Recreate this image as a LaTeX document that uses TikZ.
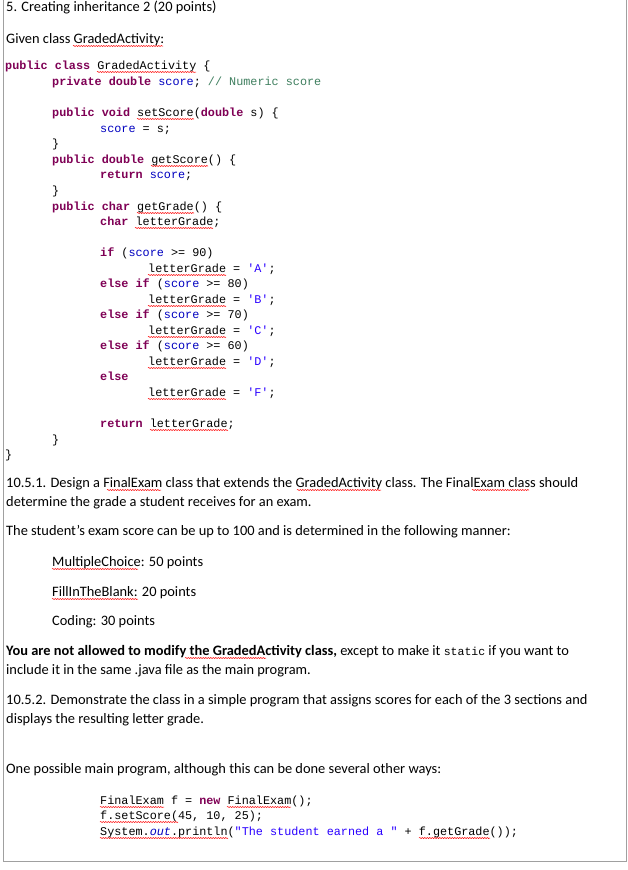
\documentclass[tikz,border=0pt]{standalone}
\usepackage{fontspec}
\setmainfont{Carlito}
\setmonofont{Liberation Mono}
\usetikzlibrary{decorations.pathmorphing}
\definecolor{kw}{HTML}{7F0055}
\definecolor{vr}{HTML}{0000C0}
\definecolor{cm}{HTML}{3F7F5F}
\definecolor{st}{HTML}{2A00FF}
\definecolor{frame}{HTML}{A0A0A0}
\newcommand{\K}[1]{\textcolor{kw}{\bfseries #1}}
\newcommand{\V}[1]{\textcolor{vr}{#1}}
\tikzset{txt/.style={anchor=base west,inner sep=0pt,font=\fontsize{14.4}{16}\selectfont},
code/.style={anchor=base west,inner sep=0pt,font=\ttfamily\fontsize{11.8}{14}\selectfont},
squig/.style={draw=red,line width=0.5pt,decorate,decoration={snake,amplitude=0.6pt,segment length=2.5pt}}}
\begin{document}
\begin{tikzpicture}[x=1pt,y=-1pt]
\useasboundingbox (0,0) rectangle (628,870);
\fill[white] (0,0) rectangle (628,870);
\draw[frame] (3.5,-2) rectangle (626.5,861.5);
\node[txt] (t1) at (6,12) {5. Creating inheritance 2 (20 points)};
\node[txt] (t2) at (6,43) {Given class GradedActivity:};
\node[code] (c1) at (5,69) {\K{public class} GradedActivity \{};
\node[code] (c2) at (52,85) {\K{private double} \V{score}; \textcolor{cm}{// Numeric score}};
\node[code] (c3) at (52,116) {\K{public void} setScore(\K{double} s) \{};
\node[code] (c4) at (100,132) {\V{score} = s;};
\node[code] (c5) at (52,147) {\}};
\node[code] (c6) at (52,163) {\K{public double} getScore() \{};
\node[code] (c7) at (100,178) {\K{return} \V{score};};
\node[code] (c8) at (52,194) {\}};
\node[code] (c9) at (52,210) {\K{public char} getGrade() \{};
\node[code] (c10) at (100,225) {\K{char} letterGrade;};
\node[code] (c11) at (100,256) {\K{if} (\V{score} >= 90)};
\node[code] (c12) at (148,272) {letterGrade = \textcolor{st}{'A'};};
\node[code] (c13) at (100,287) {\K{else if} (\V{score} >= 80)};
\node[code] (c14) at (148,303) {letterGrade = \textcolor{st}{'B'};};
\node[code] (c15) at (100,318) {\K{else if} (\V{score} >= 70)};
\node[code] (c16) at (148,334) {letterGrade = \textcolor{st}{'C'};};
\node[code] (c17) at (100,349) {\K{else if} (\V{score} >= 60)};
\node[code] (c18) at (148,365) {letterGrade = \textcolor{st}{'D'};};
\node[code] (c19) at (100,380) {\K{else}};
\node[code] (c20) at (148,396) {letterGrade = \textcolor{st}{'F'};};
\node[code] (c21) at (100,427) {\K{return} letterGrade;};
\node[code] (c22) at (52,443) {\}};
\node[code] (c23) at (5,458) {\}};
\node[txt] (p1) at (6,487) {10.5.1. Design a FinalExam class that extends the GradedActivity class. The FinalExam class should};
\node[txt] (p2) at (6,506) {determine the grade a student receives for an exam.};
\node[txt] (p3) at (6,535) {The student’s exam score can be up to 100 and is determined in the following manner:};
\node[txt] (m1) at (52,566) {MultipleChoice: 50 points};
\node[txt] (m2) at (52,596) {FillInTheBlank: 20 points};
\node[txt] (m3) at (52,625) {Coding: 30 points};
\node[txt] (p4) at (6,655) {\bfseries You are not allowed to modify the GradedActivity class, \mdseries except to make it {\ttfamily\fontsize{11.5}{13}\selectfont static} if you want to};
\node[txt] (p5) at (6,674) {include it in the same .java file as the main program.};
\node[txt] (p6) at (6,704) {10.5.2. Demonstrate the class in a simple program that assigns scores for each of the 3 sections and};
\node[txt] (p7) at (6,723) {displays the resulting letter grade.};
\node[txt] (p8) at (6,773) {One possible main program, although this can be done several other ways:};
\node[code] (d1) at (100,804) {FinalExam f = \K{new} FinalExam();};
\node[code] (d2) at (100,819) {f.setScore(45, 10, 25);};
\node[code] (d3) at (100,835) {System.\V{\itshape out}.println(\textcolor{st}{"The student earned a "} + f.getGrade());};
% spelling squiggles
\foreach \a/\b/\y in {73/163/46, 97/196/72, 137/194/119, 151/208/166, 137/194/213, 135/213/228,
 148/226/275,148/226/306,148/226/337,148/226/368,148/226/399,150/228/430,
 107/161/490, 297/381/490, 472/529/490, 52/138/569, 52/138/599, 185/266/658,
 100/164/807, 227/291/807, 100/178/822, 100/228/838, 419/490/838}
 \draw[squig] (\a,\y) -- (\b,\y);
\end{tikzpicture}
\end{document}
